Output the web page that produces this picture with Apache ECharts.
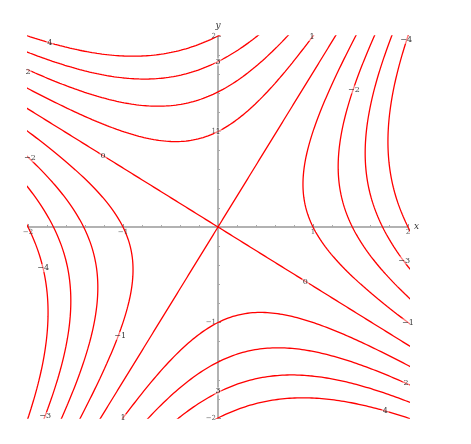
<!DOCTYPE html>
<html><head><meta charset="utf-8">
<script src="https://cdn.jsdelivr.net/npm/echarts@6/dist/echarts.min.js"></script>
<style>html,body{margin:0;padding:0;background:#fff}#c{width:471px;height:444px}</style>
</head><body><div id="c"></div>
<script>
const levels = [-4, -3, -2, -1, 0, 1, 2, 3, 4];
const xTicks = [-2, -1, 1, 2];
const yTicks = [-2, -1, 1, 2];
const contourLabels = [
  [-1.77, 1.93, '4'], [-2.0, 1.62, '2'], [-1.21, 0.74, '0'], [-1.98, 0.72, '\u22122'],
  [0.0, 1.73, '3'], [0.0, 1.0, '1'], [0.99, 1.99, '1'], [1.43, 1.44, '\u22122'],
  [1.98, 1.96, '\u22124'], [-1.84, -0.43, '\u22124'], [-1.03, -1.14, '\u22121'],
  [-1.82, -1.98, '\u22123'], [-1.0, -2.0, '1'], [0.92, -0.58, '0'], [1.96, -0.35, '\u22123'],
  [2.0, -1.0, '\u22121'], [1.98, -1.63, '2'], [0.0, -1.72, '3'], [1.76, -1.93, '4']
];
const series = [];
const N = 400;
levels.forEach(c => {
  [1, -1].forEach(s => {
    const pts = [];
    for (let i = 0; i <= N; i++) {
      const t = -2.6 + 5.2 * i / N;
      if (c >= 0) {
        pts.push([t, (t + s * Math.sqrt(5 * t * t + 4 * c)) / 2]);
      } else {
        pts.push([(-t + s * Math.sqrt(5 * t * t - 4 * c)) / 2, t]);
      }
    }
    series.push({type: 'line', data: pts, showSymbol: false, symbol: 'none', clip: true,
      lineStyle: {color: '#ff0000', width: 1.3}, silent: true, z: 2});
  });
});
const txt = {fontSize: 8, color: '#000', fontFamily: 'DejaVu Serif'};
series.push({type: 'scatter', data: contourLabels, symbolSize: 0, z: 5, silent: true,
  label: Object.assign({show: true, position: 'inside', formatter: p => p.data[2],
    backgroundColor: 'rgba(255,255,255,0.6)', padding: [0, 1]}, txt)});
const fmt = v => String(v).replace('-', '\u2212');
series.push({type: 'scatter', data: xTicks.map(v => [v, 0]), symbolSize: 0, z: 4, silent: true,
  label: Object.assign({show: true, position: 'bottom', distance: 2, formatter: p => fmt(p.data[0])}, txt, {fontSize: 7, color: '#333'})});
series.push({type: 'scatter', data: yTicks.map(v => [0, v]), symbolSize: 0, z: 4, silent: true,
  label: Object.assign({show: true, position: 'left', distance: 2, formatter: p => fmt(p.data[1])}, txt, {fontSize: 7, color: '#333'})});
const common = {
  min: -2, max: 2, interval: 1,
  axisLine: {onZero: true, lineStyle: {color: '#999', width: 1.5}},
  axisTick: {show: true, inside: true, length: 3, lineStyle: {color: '#999'}},
  minorTick: {show: true, splitNumber: 5, length: 2, lineStyle: {color: '#aaa'}},
  splitLine: {show: false},
  axisLabel: {show: false},
  nameTextStyle: {fontStyle: 'italic', fontFamily: 'DejaVu Serif', fontSize: 9, color: '#333'}
};
const chart = echarts.init(document.getElementById('c'));
chart.setOption({
  animation: false,
  grid: {left: 28, right: 63, top: 36, bottom: 26},
  xAxis: Object.assign({}, common, {type: 'value', name: 'x', nameGap: 6}),
  yAxis: Object.assign({}, common, {type: 'value', name: 'y', nameGap: 6}),
  series: series
});
</script></body></html>
